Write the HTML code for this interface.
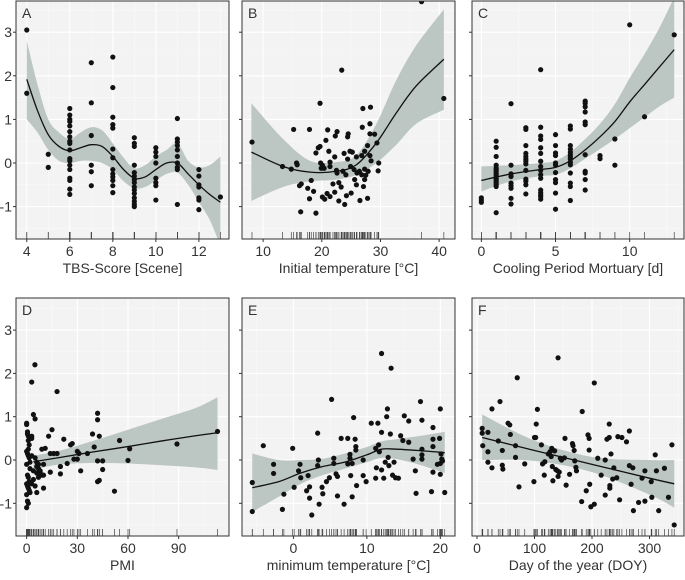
<!DOCTYPE html>
<html><head><meta charset="utf-8"><style>
body{margin:0;background:#fff}
svg text{font-family:"Liberation Sans",Arial,sans-serif;fill:#333}
</style></head><body>
<svg id="chart" width="685" height="575" viewBox="0 0 685 575" xmlns="http://www.w3.org/2000/svg"></svg>
<script>
// ---------- Panel A data ----------
const aX=[4,4,5,5,6,6,6,6,6,6,6,6,6,6,6,6,6,6,6,6,6,6,7,7,7,7,7,7,8,8,8,8,8,8,8,8,8,8,8,8,8,9,9,9,9,9,9,9,9,9,9,9,9,9,9,9,10,10,10,10,10,10,10,10,11,11,11,11,11,11,11,11,11,11,12,12,12,12,12,12,12,13];
const aY=[3.05,1.6,0.2,-0.1,1.25,1.1,1.0,0.95,0.85,0.72,0.6,0.5,0.45,0.3,0.1,0.05,-0.05,-0.15,-0.35,-0.4,-0.6,-0.72,2.3,1.38,0.63,-0.05,-0.2,-0.52,2.43,1.73,1.05,0.88,0.8,0.32,0.12,-0.15,-0.25,-0.32,-0.4,-0.52,-0.68,0.58,0.45,0.38,-0.05,-0.22,-0.3,-0.38,-0.45,-0.55,-0.62,-0.7,-0.8,-0.88,-0.95,-1.0,0.35,0.25,0.15,0.0,-0.35,-0.45,-0.52,-0.85,1.02,0.55,0.48,0.4,0.3,0.15,0.0,-0.1,-0.15,-0.95,-0.15,-0.3,-0.5,-0.55,-0.8,-0.85,-1.07,-0.78];
const aCX=[4,4.5,5,5.5,6,6.5,7,7.5,8,8.5,9,9.5,10,10.5,11,11.5,12,12.5,13];
const aFit=[1.92,1.2,0.65,0.38,0.28,0.35,0.42,0.38,0.15,-0.15,-0.35,-0.32,-0.15,0.0,0.0,-0.25,-0.5,-0.72,-0.9];
const aLo=[1.0,0.7,0.3,0.05,0.0,0.05,0.05,0.0,-0.15,-0.42,-0.58,-0.55,-0.4,-0.25,-0.22,-0.5,-0.9,-1.3,-1.9];
const aHi=[2.8,1.8,1.0,0.7,0.55,0.7,0.82,0.75,0.45,0.12,-0.12,-0.05,0.15,0.3,0.45,0.05,-0.1,-0.05,0.15];
// ---------- Panel B data ----------
const bX=[8.1,37,40.8,23.4,19.7,27,28.3,15.2,17.9,21,22.6,24.5,24.4,26.9,28.2,28.2,29,20.7,22.3,19.7,19.4,19,29.4,27.8,21.2,23.8,24.8,25.2,27.3,26.8,28.2,28.4,29.7,22.2,24.4,25.9,13.3,14.8,15.7,15.8,19.8,20.1,19.9,20.4,21.4,21.4,22.5,22.6,23.6,24.1,24.9,25.5,26,26.4,26.8,27.3,27.5,27.9,27.3,29.6,18.2,16.5,16.2,17.6,18.6,17.9,22.9,21.9,23.3,25,24.2,20.9,22.2,21.4,20.5,20.1,22.9,23.9,26.5,27.8,25.9,27.1,16.4,19,25.6];
const bY=[0.48,3.7,1.48,2.13,1.37,1.25,1.28,0.77,0.77,0.76,0.72,0.67,0.6,0.82,0.9,0.67,0.66,0.52,0.62,0.38,0.35,0.23,0.46,0.4,0.27,0.22,0.27,0.25,0.27,0.17,0.17,0.05,0,0.14,0.09,0.14,-0.08,-0.14,0,-0.04,0,-0.05,-0.12,-0.12,0.02,-0.08,-0.17,-0.23,-0.19,-0.27,-0.08,-0.15,-0.23,-0.19,-0.27,-0.14,-0.28,-0.19,-0.38,-0.18,-0.4,-0.48,-0.52,-0.58,-0.65,-0.82,-0.45,-0.48,-0.55,-0.69,-0.75,-0.7,-0.67,-0.77,-0.83,-0.78,-0.87,-0.95,-0.86,-0.81,-0.5,-0.54,-1.12,-1.15,-0.38];
const bCX=[8,13.4,18,22.5,25.9,29.3,32.7,36.1,40.8];
const bFit=[0.25,-0.08,-0.21,-0.19,-0.04,0.46,1.15,1.77,2.38];
const bLo=[-0.87,-0.55,-0.42,-0.38,-0.27,0.0,0.42,0.9,1.22];
const bHi=[1.37,0.55,0.05,0.02,0.18,0.9,1.9,2.7,3.52];
// ---------- Panel C data ----------
const cX=[0,0,0,1,1,1,1,1,1,1,1,1,1,1,1,1,1,1,1,1,2,2,2,2,2,2,2,2,2,3,3,3,3,3,3,3,3,3,3,3,3,3,4,4,4,4,4,4,4,4,4,4,4,4,4,4,4,4,5,5,5,5,5,5,5,5,5,5,5,6,6,6,6,6,6,6,6,6,6,6,6,6,6,7,7,7,7,7,7,7,7,7,7,7,8,8,9,9,10,11,13];
const cY=[-0.8,-0.85,-0.9,0.5,0.36,0.15,-0.05,-0.12,-0.15,-0.19,-0.23,-0.27,-0.31,-0.35,-0.38,-0.42,-0.46,-0.5,-0.54,-1.14,1.36,-0.05,-0.25,-0.31,-0.46,-0.52,-0.58,-0.81,-0.94,0.81,0.77,0.4,0.22,0.15,0.09,0.04,-0.02,-0.17,-0.37,-0.42,-0.5,-0.71,2.14,0.82,0.62,0.54,0.35,0.22,0.04,-0.08,-0.17,-0.27,-0.35,-0.62,-0.68,-0.73,-0.77,-0.83,0.65,0.4,0.23,0.17,0,-0.05,-0.22,-0.38,-0.45,-0.69,-1.06,0.85,0.78,0.4,0.32,0.25,0.19,0.14,0.09,0.02,-0.04,-0.23,-0.46,-0.54,-0.86,1.42,1.37,1.29,1.17,0.94,0.88,0.19,-0.19,-0.23,-0.38,-0.62,0.17,0.1,0.55,-0.05,3.17,1.06,2.94];
const cCX=[0,2,4,5,6,7,8,9,10,11,12,13];
const cFit=[-0.4,-0.25,-0.15,-0.1,0.05,0.3,0.6,0.95,1.4,1.8,2.2,2.6];
const cLo=[-0.65,-0.42,-0.3,-0.27,-0.12,0.1,0.32,0.55,0.8,1.05,1.3,1.5];
const cHi=[-0.08,-0.05,0.0,0.05,0.25,0.55,0.9,1.35,1.95,2.5,3.1,3.8];
// ---------- Panel D data ----------
const dX=[0,0,0.5,0.5,1,1,1.5,0,0.5,1,1.5,2,0,0.5,1,1.5,0,0.5,1,1.5,2,0,0.5,1,0,1,2,3,3,3,3,3,4,4,4,4.9,5,5,5,6,6,6,6,7,7,7,8,8,9,9,10,10,10,11,13,14,14,15,16,18,18,20,20,22,24,26,27,28,30,30,31,32,36,39,40,42,42,42,42,43,43,45,45,52,55,60,61,89,113];
const dY=[0.85,0.82,0.65,0.6,0.55,0.45,0.35,0.2,0.15,0.1,0.05,-0.05,-0.1,-0.35,-0.4,-0.5,-0.55,-0.6,-0.65,-0.7,-0.75,-0.8,-0.95,-1.0,-1.1,0.25,-0.2,1.8,0.55,0.5,0.1,-0.55,1.05,-0.45,-0.25,2.2,0.95,0.05,-0.6,-0.05,-0.15,-0.75,-0.3,-0.2,-0.1,-0.4,-0.3,-0.25,0.25,-0.35,-0.65,-0.35,-0.1,0.27,0.55,-0.28,0.15,0.7,0.15,1.58,0.15,-0.15,-0.32,0.48,-0.08,0.35,0.38,0.02,0.2,0.02,0.15,-0.25,0.15,0.6,0.3,1.08,0.93,-0.02,-0.5,0.55,-0.47,-0.02,-0.22,-0.72,0.45,-0.01,0.26,0.37,0.66];
const dCX=[4,20,40,60,80,100,113];
const dFit=[-0.04,0.06,0.19,0.31,0.44,0.56,0.63];
const dLo=[-0.22,-0.1,-0.07,-0.08,-0.12,-0.17,-0.23];
const dHi=[0.1,0.22,0.45,0.7,0.95,1.2,1.45];
// ---------- Panel E data ----------
const eX=[-5.6,-5.6,-4.1,-2.7,-2.7,-1.3,-1.5,-0.1,0.1,0.7,0.9,1,1.8,2,2.2,2.2,2.5,3.3,3.4,3.3,3.5,3.9,4,4.5,4.9,5.2,5.5,5.5,5.8,6,6,6.5,6.9,7.4,7.4,7.7,7.7,8,7.8,8.2,8.4,8.5,8.5,8.6,8,9.5,9.5,9.9,10.6,11.2,11.2,11.3,11.5,11.6,11.7,12,12,12,12.3,12.5,12.7,12.8,12.9,13,13.2,13.3,13.5,13.7,13.9,14.3,14.6,14.9,15.1,15.7,15.7,16.3,16.6,16.7,17.3,17.5,17.5,17.5,17.5,18.8,19,19,19,19,19.6,19.9,20,20,20.1,20.2,20.3,20.6,20];
const eY=[-0.52,-1.19,0.33,-0.1,-0.31,-0.79,-1.14,0.27,-0.63,-0.25,-0.1,-0.41,-0.71,-0.36,-0.62,-0.88,-1.27,0.62,0,-0.13,-1.02,-0.63,-0.78,-0.5,-0.41,1.4,0.04,-0.08,-0.32,-0.38,-0.83,0.5,-1.02,0.5,-0.09,0.13,0.04,-0.08,-0.36,0.98,0.48,0.31,0.23,-0.59,-0.85,0,-0.36,-0.5,0.85,-0.42,0.27,-0.18,0.85,0.35,0.19,2.46,0.64,-0.23,-0.42,-0.05,1.0,1.18,0.06,-0.13,0.6,2.12,-0.35,-0.05,-0.41,-0.42,0.56,0.45,1.02,0.9,0.41,0.02,-0.25,-0.77,1.35,0.92,0.25,0.12,0.02,-0.73,0.75,0.48,0.31,-0.28,-0.1,0.5,1.18,-0.33,0.14,0.02,-0.02,-0.75,-0.08];
const eCX=[-5.6,-2,1,4,7,10,12,14,17,20.6];
const eFit=[-0.64,-0.5,-0.3,-0.15,-0.05,0.12,0.25,0.25,0.22,0.17];
const eLo=[-1.2,-0.85,-0.55,-0.35,-0.2,-0.05,0.05,0.02,-0.1,-0.3];
const eHi=[0.15,0.0,0.0,0.03,0.15,0.3,0.43,0.48,0.55,0.65];
// ---------- Panel F data ----------
const fX=[9,9,10,19,19,19,26,26,37,40,44,44,45,54,57,58,67,67,70,73,83,99,100,102,103,105,112,114,117,118,124,127,129,130,131,132,135,137,140,141,141,143,145,147,152,153,155,161,166,167,169,170,172,173,183,182,190,193,195,195,196,198,204,204,210,216,223,223,226,230,230,231,231,233,236,238,243,245,248,252,260,265,265,268,271,272,281,287,292,292,303,304,310,312,316,326,333,339,343];
const fY=[0.73,0.62,0.33,0.64,0.19,-0.05,1.18,-0.18,0.44,1.35,0.22,-0.12,-0.21,0.85,0.81,0.59,0.33,0.06,1.9,-0.62,-0.09,-0.5,0.52,0.52,0.83,1.17,0.35,-0.09,-0.35,-0.04,0.14,0.19,0.08,0.27,-0.15,-0.48,0.21,-0.22,-0.25,-0.38,2.36,-0.28,0.04,0,0.05,0.5,-0.58,-0.33,0.38,0.33,0.22,-0.02,-0.17,-0.25,1.12,-0.96,-0.71,0.58,0.5,0.23,-0.56,-1.08,1.78,-1.02,0.04,-0.35,0,-0.81,0.48,0.83,0.52,-0.59,-0.65,0.14,-0.44,-0.18,-0.41,0.54,-0.92,0.52,0.42,0.67,-0.13,-0.56,-0.18,-1.17,-0.98,-0.42,-0.25,-0.95,-0.5,-0.86,0.12,-0.25,-1.17,-0.19,-0.86,0.35,-1.5];
const fCX=[9,100,200,300,343];
const fFit=[0.52,0.22,-0.1,-0.42,-0.55];
const fLo=[0.0,-0.02,-0.28,-0.8,-1.1];
const fHi=[1.05,0.45,0.07,0.0,0.0];
// ---------- axis tick labels ----------
const yTicks=[-1,0,1,2,3];
const aTicks=[4,6,8,10,12], bTicks=[10,20,30,40], cTicks=[0,5,10], dTicks=[0,30,60,90], eTicks=[0,10,20], fTicks=[0,100,200,300];

const NS="http://www.w3.org/2000/svg";
const svg=document.getElementById('chart');
function mk(tag,attrs,parent){const e=document.createElementNS(NS,tag);for(const k in attrs)e.setAttribute(k,attrs[k]);(parent||svg).appendChild(e);return e;}
function smooth(pts){if(pts.length<3)return 'M'+pts.map(p=>p.join(',')).join('L');let d='M'+pts[0][0]+','+pts[0][1];for(let i=0;i<pts.length-1;i++){const p0=pts[i-1]||pts[i],p1=pts[i],p2=pts[i+1],p3=pts[i+2]||p2;const c1=[p1[0]+(p2[0]-p0[0])/6,p1[1]+(p2[1]-p0[1])/6],c2=[p2[0]-(p3[0]-p1[0])/6,p2[1]-(p3[1]-p1[1])/6];d+='C'+c1[0]+','+c1[1]+' '+c2[0]+','+c2[1]+' '+p2[0]+','+p2[1];}return d;}

const panels=[
 {id:'a',L:'A',x0:16,x1:229,top:1,bot:239,y0v:163,yu:43.6,dom:[3.5,13.4],X:aX,Y:aY,CX:aCX,F:aFit,Lo:aLo,Hi:aHi,ticks:aTicks,minor:[5,7,9,11,13],title:'TBS-Score [Scene]',ylab:true},
 {id:'b',L:'B',x0:242,x1:455,top:1,bot:239,y0v:163,yu:43.6,dom:[6.4,42.7],X:bX,Y:bY,CX:bCX,F:bFit,Lo:bLo,Hi:bHi,ticks:bTicks,minor:[15,25,35],title:'Initial temperature [°C]'},
 {id:'c',L:'C',x0:472,x1:684,top:1,bot:239,y0v:163,yu:43.6,dom:[-0.63,13.66],X:cX,Y:cY,CX:cCX,F:cFit,Lo:cLo,Hi:cHi,ticks:cTicks,minor:[2.5,7.5,12.5],title:'Cooling Period Mortuary [d]'},
 {id:'d',L:'D',x0:16,x1:229,top:298,bot:536,y0v:460,yu:43.3,dom:[-6.3,119.8],X:dX,Y:dY,CX:dCX,F:dFit,Lo:dLo,Hi:dHi,ticks:dTicks,minor:[15,45,75,105],title:'PMI',ylab:true},
 {id:'e',L:'E',x0:242,x1:455,top:298,bot:536,y0v:460,yu:43.3,dom:[-7,22],X:eX,Y:eY,CX:eCX,F:eFit,Lo:eLo,Hi:eHi,ticks:eTicks,minor:[-5,5,15],title:'minimum temperature [°C]'},
 {id:'f',L:'F',x0:472,x1:684,top:298,bot:536,y0v:460,yu:43.3,dom:[-8.7,360],X:fX,Y:fY,CX:fCX,F:fFit,Lo:fLo,Hi:fHi,ticks:fTicks,minor:[50,150,250,350],title:'Day of the year (DOY)'}
];
const defs=mk('defs',{});
panels.forEach(p=>{
 const sx=v=>p.x0+(v-p.dom[0])/(p.dom[1]-p.dom[0])*(p.x1-p.x0);
 const sy=v=>p.y0v-v*p.yu;
 const g=mk('g',{});
 
 
 const cp=mk('clipPath',{id:'clip-'+p.id},defs);
 mk('rect',{x:p.x0,y:p.top,width:p.x1-p.x0,height:p.bot-p.top},cp);
 const bg=mk('rect',{x:p.x0,y:p.top,width:p.x1-p.x0,height:p.bot-p.top,fill:'#f3f3f3'},g);
 
 
 const cg=mk('g',{'clip-path':'url(#clip-'+p.id+')'},g);
 [-1.5,-0.5,0.5,1.5,2.5,3.5].forEach(v=>mk('line',{x1:p.x0,x2:p.x1,y1:sy(v),y2:sy(v),stroke:'#fafafa','stroke-width':0.6},cg));
 p.minor.forEach(v=>mk('line',{x1:sx(v),x2:sx(v),y1:p.top,y2:p.bot,stroke:'#fafafa','stroke-width':0.6},cg));
 yTicks.forEach(v=>mk('line',{x1:p.x0,x2:p.x1,y1:sy(v),y2:sy(v),stroke:'#fff','stroke-width':1.1},cg));
 p.ticks.forEach(v=>mk('line',{x1:sx(v),x2:sx(v),y1:p.top,y2:p.bot,stroke:'#fff','stroke-width':1.1},cg));
 const up=p.CX.map((x,i)=>[sx(x),sy(p.Hi[i])]);
 const lo=p.CX.map((x,i)=>[sx(x),sy(p.Lo[i])]).reverse();
 const rib=mk('path',{d:smooth(up)+'L'+smooth(lo).slice(1)+'Z',fill:'#bcc6c2'},cg);
 
 
 const rug=mk('g',{stroke:'#444','stroke-width':0.7},cg);
 
 
 p.X.forEach(x=>mk('line',{x1:sx(x),x2:sx(x),y1:p.bot-7,y2:p.bot},rug));
 const pg=mk('g',{fill:'#111'},cg);
 
 
 p.X.forEach((x,i)=>{const c=mk('circle',{cx:sx(x),cy:sy(p.Y[i]),r:2.6},pg);
  
  });
 const fl=mk('path',{d:smooth(p.CX.map((x,i)=>[sx(x),sy(p.F[i])])),fill:'none',stroke:'#111','stroke-width':1.3},cg);
 
 
 mk('rect',{x:p.x0,y:p.top,width:p.x1-p.x0,height:p.bot-p.top,fill:'none',stroke:'#333','stroke-width':1},g);
 const lt=mk('text',{x:p.x0+6,y:p.top+17,'font-size':14},g);lt.textContent=p.L;
 
 
 p.ticks.forEach(v=>{mk('line',{x1:sx(v),x2:sx(v),y1:p.bot,y2:p.bot+3,stroke:'#333'},g);
  const t=mk('text',{x:sx(v),y:p.bot+17,'font-size':14,'text-anchor':'middle'},g);t.textContent=v;
  
  });
 yTicks.forEach(v=>{mk('line',{x1:p.x0-3,x2:p.x0,y1:sy(v),y2:sy(v),stroke:'#333'},g);
  if(p.ylab){const t=mk('text',{x:p.x0-4,y:sy(v)+5,'font-size':14,'text-anchor':'end'},g);t.textContent=v;
  
  }});
 const at=mk('text',{x:(p.x0+p.x1)/2,y:p.bot+34,'font-size':14,'text-anchor':'middle'},g);at.textContent=p.title;
 
 
});
</script>
</body></html>
